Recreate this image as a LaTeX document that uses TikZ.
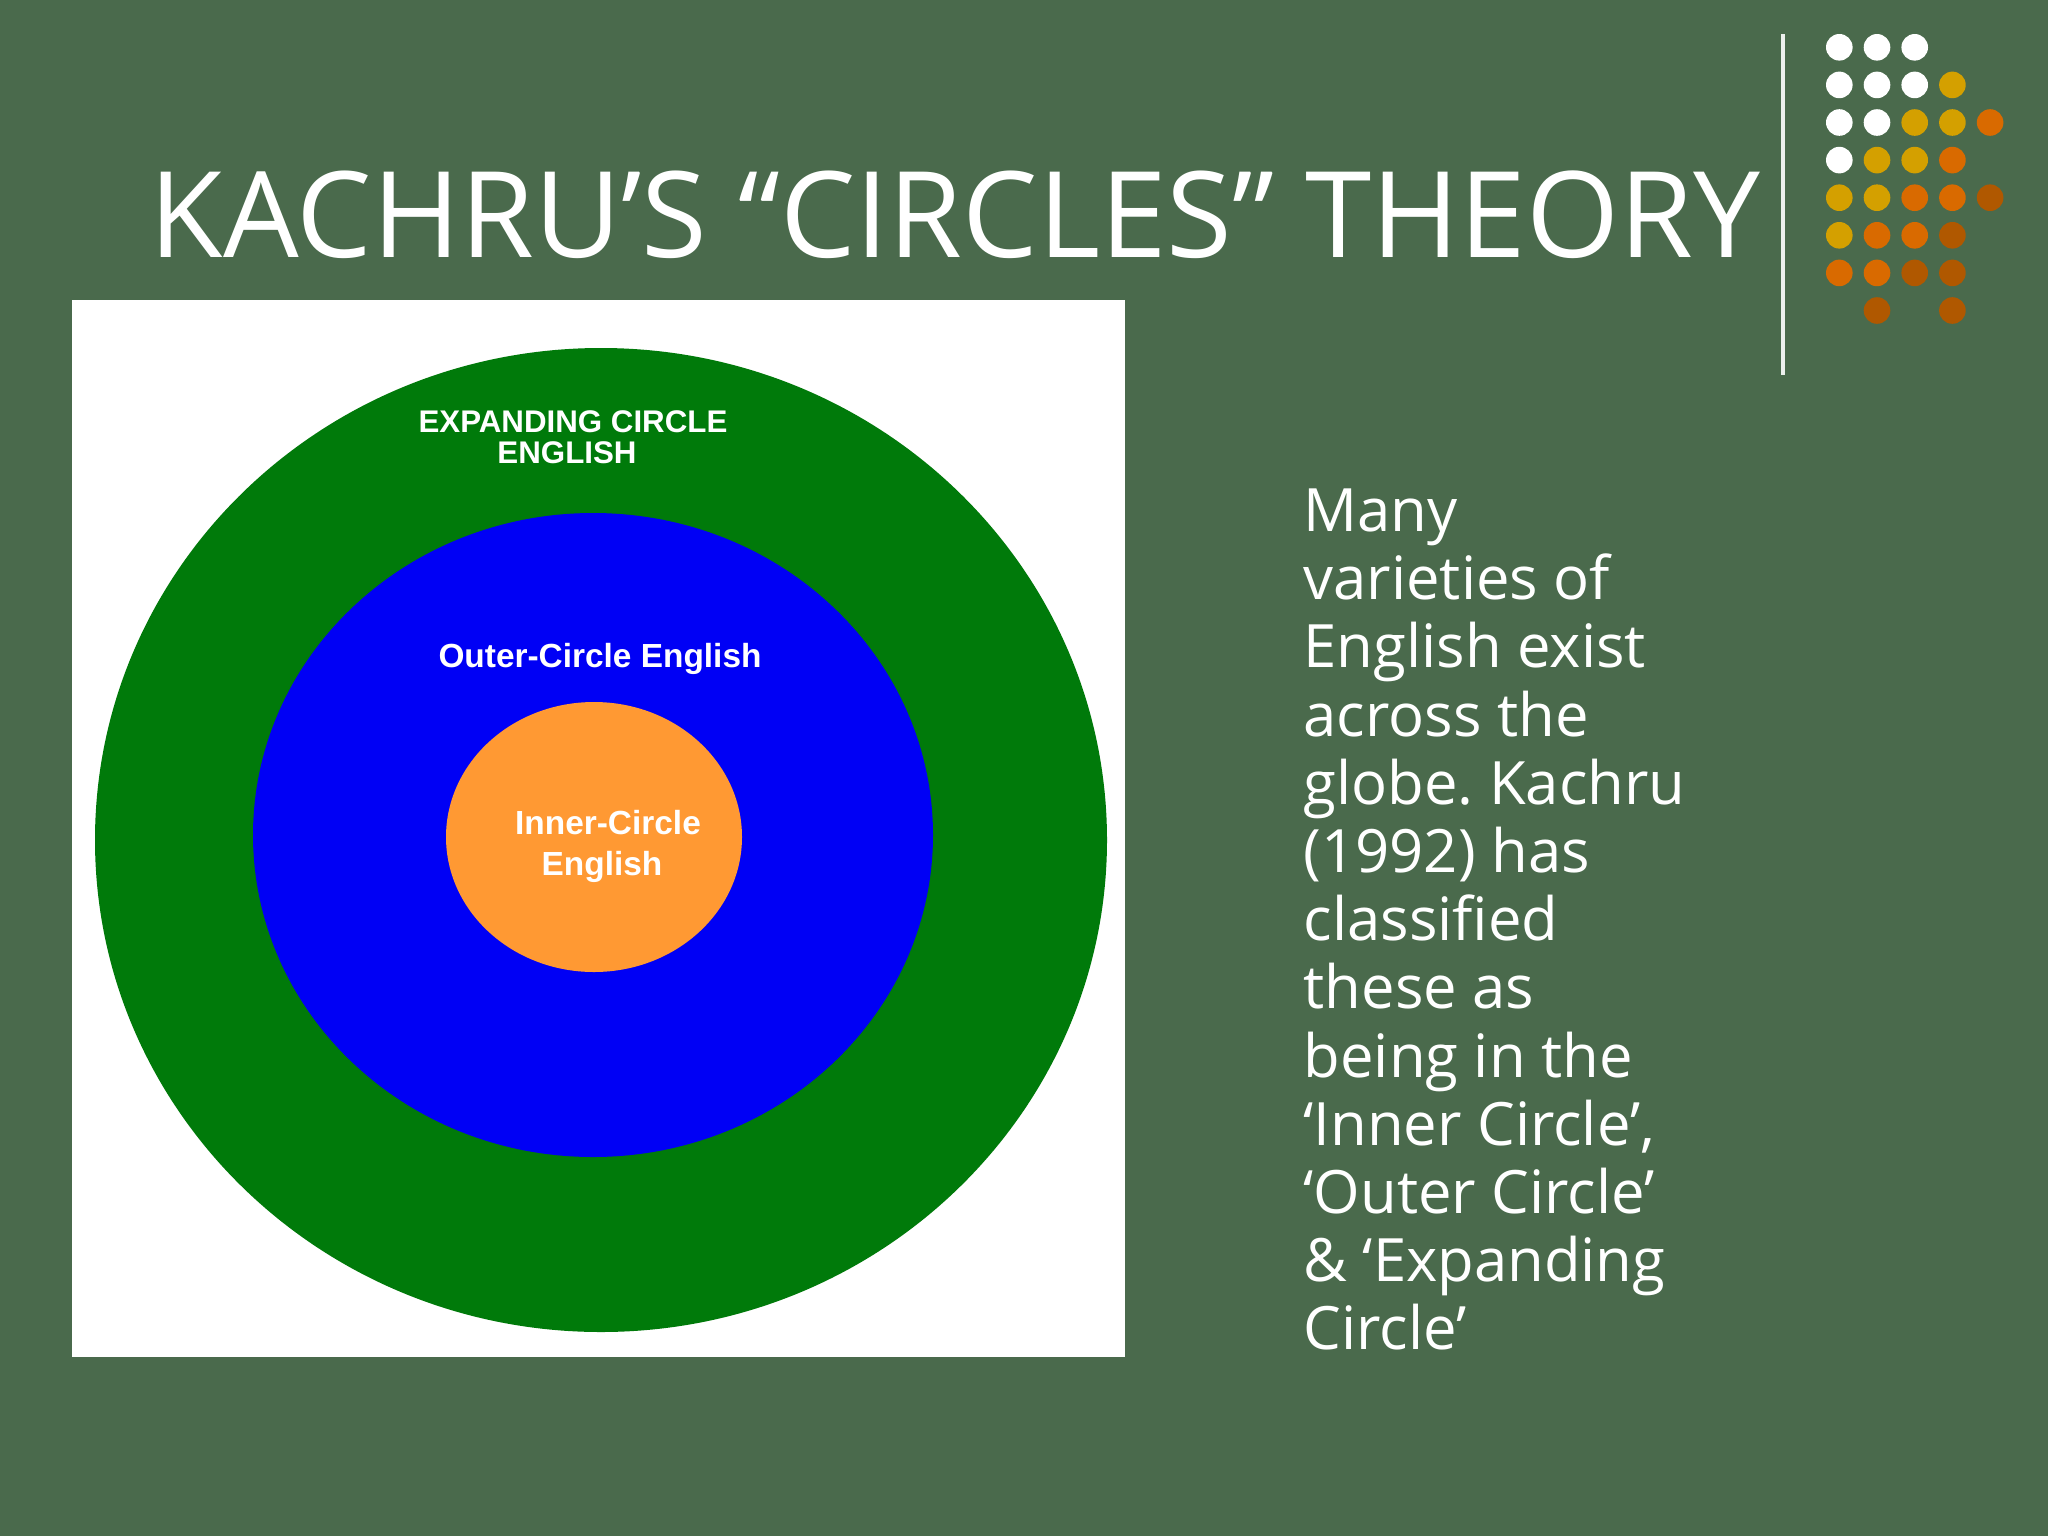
\documentclass[tikz,border=0pt]{standalone}
\usepackage{fontspec}
\setmainfont{Open Sans}
\newfontfamily\arialfont{Liberation Sans}
\frenchspacing

\definecolor{slidebg}{RGB}{74,106,76}
\definecolor{ringgreen}{RGB}{0,122,10}
\definecolor{ringblue}{RGB}{0,0,245}
\definecolor{ringorange}{RGB}{255,153,51}
\definecolor{dotW}{RGB}{255,255,255}
\definecolor{dotG}{RGB}{212,160,0}
\definecolor{dotO}{RGB}{217,106,0}
\definecolor{dotB}{RGB}{176,88,0}

\tikzset{
  ringlabel/.style={text=white,font=\arialfont\bfseries\fontsize{9.5}{11}\selectfont,inner sep=0pt},
  caplabel/.style={ringlabel,font=\arialfont\bfseries\fontsize{8.9}{10}\selectfont},
  bodyline/.style={text=white,anchor=base west,inner sep=0pt,font=\fontsize{17}{19}\selectfont}
}

\begin{document}
\begin{tikzpicture}[x=0.01cm,y=-0.01cm]
  % fondo de la diapositiva
  \fill[slidebg] (0,0) rectangle (2048,1536);
  \useasboundingbox (0,0) rectangle (2048,1536);

  % titulo
  \node[text=white,anchor=base,inner sep=0pt,font=\fontsize{34}{40}\selectfont] (title) at (955,257)
    {KACHRU’S “CIRCLES” THEORY};

  % linea vertical y puntos
  \draw[white!90!slidebg,line width=0.9pt] (1783,34) -- (1783,375);
  \foreach \c/\r/\col in {0/0/dotW,1/0/dotW,2/0/dotW,
                          0/1/dotW,1/1/dotW,2/1/dotW,3/1/dotG,
                          0/2/dotW,1/2/dotW,2/2/dotG,3/2/dotG,4/2/dotO,
                          0/3/dotW,1/3/dotG,2/3/dotG,3/3/dotO,
                          0/4/dotG,1/4/dotG,2/4/dotO,3/4/dotO,4/4/dotB,
                          0/5/dotG,1/5/dotO,2/5/dotO,3/5/dotB,
                          0/6/dotO,1/6/dotO,2/6/dotB,3/6/dotB,
                          1/7/dotB,3/7/dotB}
    \fill[\col] ({1839.3+37.7*\c},{47.3+37.6*\r}) circle (13.3);

  % imagen de los circulos
  \fill[white] (72,300) rectangle (1125,1357);
  \fill[ringgreen] (601,840) ellipse [x radius=506, y radius=492];
  \fill[ringblue] (593,835) ellipse [x radius=340, y radius=322];
  \fill[ringorange] (594,837) ellipse [x radius=148, y radius=135];

  \node[caplabel,anchor=base] (exp1) at (573,432) {EXPANDING CIRCLE};
  \node[caplabel,anchor=base] (exp2) at (567,463) {ENGLISH};
  \node[ringlabel,anchor=base] (outer) at (600,667) {Outer-Circle English};
  \node[ringlabel,anchor=base] (inner1) at (608,834) {Inner-Circle};
  \node[ringlabel,anchor=base] (inner2) at (602,875) {English};

  % texto de la derecha
  \foreach \t [count=\i from 0] in {Many,varieties of,English exist,across the,
      globe. Kachru,(1992) has,classified,these as,being in the,
      ‘Inner Circle’{,},‘Outer Circle’,\& ‘Expanding,Circle’}
    \node[bodyline] (line\i) at (1303,{531.5+68.2*\i}) {\t};
\end{tikzpicture}
\end{document}
